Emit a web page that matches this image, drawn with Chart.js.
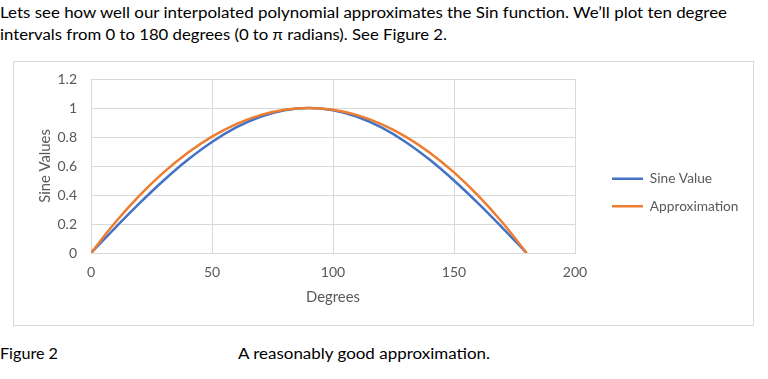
<!DOCTYPE html>
<html>
<head>
<meta charset="utf-8">
<script src="https://cdn.jsdelivr.net/npm/chart.js@4"></script>
<style>
  html, body { margin: 0; padding: 0; background: #ffffff; }
  body { width: 768px; height: 379px; position: relative; overflow: hidden; font-family: Lato, "Open Sans", sans-serif; color: #000; }
  .txt { position: absolute; white-space: nowrap; font-size: 15.5px; line-height: 1.2; transform-origin: 0 0; }
  #box { position: absolute; left: 13px; top: 61px; width: 741px; height: 265px; box-sizing: border-box; border: 1px solid #d9d9d9; }
  #c { display: block; }
</style>
</head>
<body>
<div class="txt" id="t1" style="left:0px; top:3px;" data-w="727">Lets see how well our interpolated polynomial approximates the Sin function. We’ll plot ten degree</div>
<div class="txt" id="t2" style="left:0px; top:25px;" data-w="447">intervals from 0 to 180 degrees (0 to π radians). See Figure 2.</div>
<div id="box"><canvas id="c" width="739" height="263"></canvas></div>
<div class="txt" id="t3" style="left:0px; top:344px;" data-w="58">Figure 2</div>
<div class="txt" id="t4" style="left:238px; top:344px;" data-w="252">A reasonably good approximation.</div>
<script>
// ---- data ----
const degrees = [0, 10, 20, 30, 40, 50, 60, 70, 80, 90, 100, 110, 120, 130, 140, 150, 160, 170, 180];
const sineValues = [0, 0.1736, 0.3420, 0.5, 0.6428, 0.7660, 0.8660, 0.9397, 0.9848, 1, 0.9848, 0.9397, 0.8660, 0.7660, 0.6428, 0.5, 0.3420, 0.1736, 0];
const approximation = [0, 0.2099, 0.3951, 0.5556, 0.6914, 0.8025, 0.8889, 0.9506, 0.9877, 1, 0.9877, 0.9506, 0.8889, 0.8025, 0.6914, 0.5556, 0.3951, 0.2099, 0];
const seriesNames = ["Sine Value", "Approximation"];
const xTitle = "Degrees";
const yTitle = "Sine Values";

// fit paragraph text widths
document.querySelectorAll('.txt').forEach(el => {
  const w = el.getBoundingClientRect().width;
  const target = parseFloat(el.dataset.w);
  el.style.transform = 'scaleX(' + (target / w) + ')';
});

const FONT = 'Lato';
const GREY = '#595959';
const GRID = '#d9d9d9';

// compute right padding so legend lands in place
const legendPad = 14, lineW = 31, fontSize = 13.7;
const mctx = document.createElement('canvas').getContext('2d');
mctx.font = fontSize + 'px ' + FONT;
const maxTextW = Math.max(...seriesNames.map(s => mctx.measureText(s).width));
const legendLeft = 584;
const padRight = Math.max(0, 739 - legendLeft - (legendPad + lineW + fontSize / 2 + maxTextW + 10));

function pts(xs, ys) { return xs.map((x, i) => ({ x: x, y: ys[i] })); }

new Chart(document.getElementById('c'), {
  type: 'scatter',
  data: {
    datasets: [
      {
        label: seriesNames[0],
        data: pts(degrees, sineValues),
        showLine: true,
        borderColor: '#4472C4',
        backgroundColor: '#4472C4',
        borderWidth: 2.5,
        pointRadius: 0,
        tension: 0.4,
        order: 1,
        yAxisID: 'y'
      },
      {
        label: seriesNames[1],
        data: pts(degrees, approximation),
        showLine: true,
        borderColor: '#ED7D31',
        backgroundColor: '#ED7D31',
        borderWidth: 2.5,
        pointRadius: 0,
        tension: 0.4,
        order: 0,
        yAxisID: 'y'
      }
    ]
  },
  options: {
    responsive: false,
    animation: false,
    devicePixelRatio: 1,
    layout: { autoPadding: false, padding: { left: 22, right: padRight, top: 17, bottom: 19 } },
    plugins: {
      tooltip: { enabled: false },
      legend: {
        position: 'right',
        align: 'center',
        maxWidth: 400,
        labels: {
          usePointStyle: true,
          pointStyle: 'line',
          pointStyleWidth: lineW,
          padding: legendPad,
          color: GREY,
          font: { family: FONT, size: fontSize },
          sort: (a, b) => a.datasetIndex - b.datasetIndex
        }
      }
    },
    scales: {
      x: {
        type: 'linear',
        min: 0,
        max: 200,
        ticks: { stepSize: 50, padding: 11, color: GREY, font: { family: FONT, size: 14 } },
        grid: { color: GRID, lineWidth: 1, drawTicks: false },
        border: { color: GRID },
        title: { display: true, text: xTitle, color: GREY, font: { family: FONT, size: 14.8 }, padding: { top: 8, bottom: 0 } },
        afterFit: s => { s.height = 53; s.paddingLeft = 0; s.paddingRight = 0; }
      },
      y: {
        type: 'linear',
        position: 'left',
        min: 0,
        max: 1.2,
        ticks: {
          stepSize: 0.2, padding: 14, color: GREY, font: { family: FONT, size: 14 },
          callback: v => String(+v.toFixed(1))
        },
        grid: { color: GRID, lineWidth: 1, drawTicks: false },
        border: { color: GRID },
        title: { display: true, text: yTitle, color: GREY, font: { family: FONT, size: 14.8 }, padding: { top: 0, bottom: 6 } },
        afterFit: s => { s.width = 55; s.paddingTop = 0; s.paddingBottom = 0; }
      },
      yPad: {
        type: 'linear',
        position: 'right',
        display: true,
        ticks: { display: false },
        grid: { display: false, drawTicks: false },
        border: { display: false },
        afterFit: s => { s.width = 23; s.paddingTop = 0; s.paddingBottom = 0; }
      }
    }
  }
});
</script>
</body>
</html>
